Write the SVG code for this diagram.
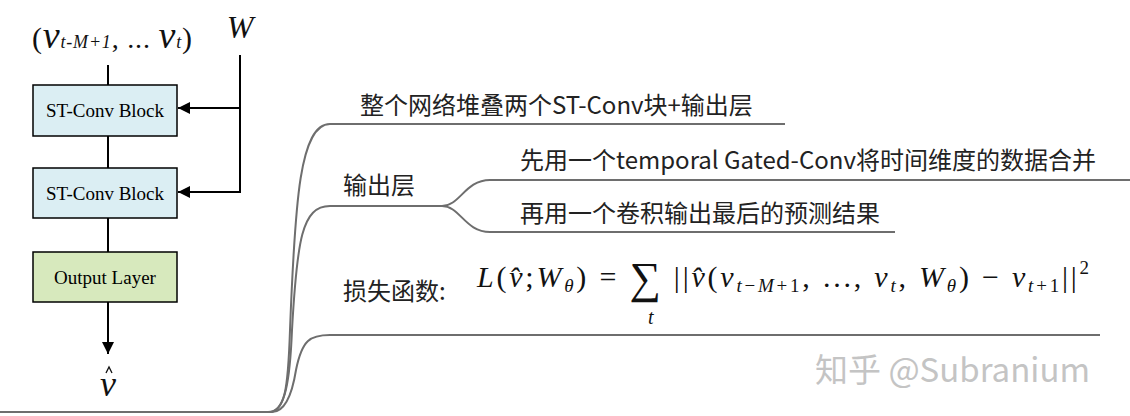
<svg xmlns="http://www.w3.org/2000/svg" width="1130" height="416" viewBox="0 0 1130 416">
<defs>
<style>
.box{stroke:#000;stroke-width:1.5}
.st{fill:#dbeef3}
.out{fill:#d7e9bd}
.bt{font-family:"Liberation Serif",serif;font-size:19px;text-anchor:middle}
.ln{stroke:#000;stroke-width:2;fill:none}
.br{stroke:#6e6e6e;stroke-width:2;fill:none}
.cn{font-family:"Noto Sans CJK SC","Noto Sans",sans-serif;font-size:24px;fill:#222}
.m{font-family:"Liberation Serif",serif;font-style:italic;fill:#111}
.r{font-style:normal}
</style>
<marker id="ah" viewBox="0 0 10 10" refX="10" refY="5" markerWidth="6" markerHeight="6" orient="auto-start-reverse"><path d="M0,0L10,5L0,10z" fill="#000"/></marker>
</defs>
<g id="connectors">
<line class="ln" x1="108" y1="65" x2="108" y2="85"/>
<line class="ln" x1="108" y1="136" x2="108" y2="168"/>
<line class="ln" x1="108" y1="218" x2="108" y2="252"/>
<line class="ln" x1="108" y1="302" x2="108" y2="354" marker-end="url(#ah)"/>
<polyline class="ln" points="240,55 240,192 178,192" marker-end="url(#ah)"/>
<line class="ln" x1="240" y1="108" x2="178" y2="108" marker-end="url(#ah)"/>
<path class="br" d="M0,412 H268 C285,412 288,390 290,330 C295,200 300,124 330,124 H785"/>
<path class="br" d="M0,412 H270 C285,412 290,380 292,330 C297,240 302,206 330,206 H442"/>
<path class="br" d="M0,412 H272 C285,412 292,395 296,370 C302,340 310,335 330,335 H1100"/>
<path class="br" d="M442,206 C460,206 465,180 490,180 H1130"/>
<path class="br" d="M442,206 C460,206 465,232 490,232 H895"/>
</g>
<g id="input"><text class="m" x="32" y="48" font-size="38" textLength="160" lengthAdjust="spacing"><tspan class="r" font-size="30">(</tspan>v<tspan font-size="18">t-M+1</tspan><tspan class="r" font-size="28">, ... </tspan>v<tspan font-size="18">t</tspan><tspan class="r" font-size="30">)</tspan></text></g>
<g id="w"><text class="m" x="240" y="38" font-size="32" text-anchor="middle">W</text></g>
<g id="st1"><rect class="box st" x="33" y="85" width="144" height="51"/><text class="bt" x="105" y="117">ST-Conv Block</text></g>
<g id="st2"><rect class="box st" x="33" y="168" width="144" height="50"/><text class="bt" x="105" y="200">ST-Conv Block</text></g>
<g id="outl"><rect class="box out" x="33" y="252" width="144" height="50"/><text class="bt" x="105" y="284">Output Layer</text></g>
<g id="vhat"><text class="m" x="108" y="396" font-size="36" text-anchor="middle">v</text><polyline points="106,373 109,367 112,373" fill="none" stroke="#111" stroke-width="1.3"/></g>
<g id="n1"><text class="cn" x="360" y="114">整个网络堆叠两个ST-Conv块+输出层</text></g>
<g id="n2"><text class="cn" x="343" y="194">输出层</text></g>
<g id="n3"><text class="cn" x="520" y="169">先用一个temporal Gated-Conv将时间维度的数据合并</text></g>
<g id="n4"><text class="cn" x="520" y="222">再用一个卷积输出最后的预测结果</text></g>
<g id="n5"><text class="cn" x="343" y="300">损失函数:</text></g>
<g id="formula">
<text class="m" x="477" y="287" font-size="30" textLength="612" lengthAdjust="spacing">L<tspan class="r">(</tspan>v̂<tspan class="r">;</tspan>W<tspan font-size="19" dy="5">θ</tspan><tspan class="r" dy="-5">) = </tspan><tspan class="r" font-size="44" dy="6">∑</tspan><tspan class="r" dy="-6"> ||</tspan>v̂<tspan class="r">(</tspan>v<tspan font-size="19" dy="5">t<tspan class="r">−</tspan>M<tspan class="r">+1</tspan></tspan><tspan class="r" dy="-5">, ..., </tspan>v<tspan font-size="19" dy="5">t</tspan><tspan class="r" dy="-5">, </tspan>W<tspan font-size="19" dy="5">θ</tspan><tspan class="r" dy="-5">) − </tspan>v<tspan font-size="19" dy="5">t<tspan class="r">+1</tspan></tspan><tspan class="r" dy="-5">||</tspan><tspan class="r" font-size="19" dy="-13">2</tspan></text>
<text class="m" x="648" y="324" font-size="20">t</text>
</g>
<g id="watermark"><text x="815" y="382" font-family="Noto Sans CJK SC,sans-serif" font-size="33" fill="#c4c4c4">知乎 @Subranium</text></g>
</svg>
